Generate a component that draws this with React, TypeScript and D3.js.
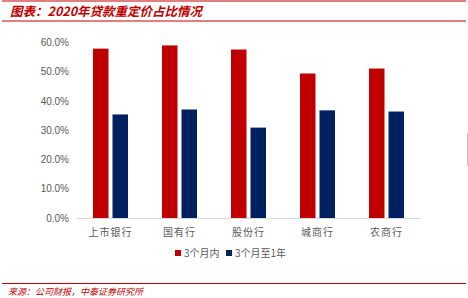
import React from "react";
import * as d3 from "d3";

const categories = ["上市银行", "国有行", "股份行", "城商行", "农商行"];
const seriesNames = ["3个月内", "3个月至1年"];
const within3m = [57.9, 59.0, 57.6, 49.4, 51.1];
const from3mTo1y = [35.4, 37.1, 30.9, 36.8, 36.4];
const yTicks = [0, 10, 20, 30, 40, 50, 60];
const colors = ["#C00000", "#002060"];
const title = "图表：2020年贷款重定价占比情况";
const source = "来源：公司财报，中泰证券研究所";

export default function App() {
  const W = 468, H = 298;
  const x = d3.scaleBand<string>().domain(categories).range([76, 421]).paddingInner(0).paddingOuter(0);
  const y = d3.scaleLinear().domain([0, 60]).range([218, 42.5]);
  const barW = 15.5;
  const gap = 4;
  const series = [within3m, from3mTo1y];
  const font = "'Liberation Sans', Arial, 'Noto Sans CJK SC', sans-serif";
  const cjk = "'Noto Sans CJK SC', sans-serif";
  return (
    <svg width={W} height={H} style={{ position: "absolute", left: 0, top: 0, background: "#fff" }}>
      <line x1={2} x2={466} y1={1} y2={1} stroke="#C00000" strokeWidth={1.2} />
      <text x={10} y={16} fill="#C00000" fontFamily={cjk} fontSize={12.5} fontWeight="bold" fontStyle="italic">{title}</text>
      <line x1={2} x2={466} y1={21} y2={21} stroke="#C00000" strokeWidth={1.2} />

      {yTicks.map((t) => (
        <text key={t} x={69} y={y(t) + 3.5} textAnchor="end" fontFamily={font} fontSize={10} fill="#595959">
          {t.toFixed(1) + "%"}
        </text>
      ))}

      {series.map((vals, si) =>
        vals.map((v, i) => {
          const c = x(categories[i])! + x.bandwidth() / 2;
          const x0 = si === 0 ? c - gap / 2 - barW : c + gap / 2;
          return <rect key={si + "-" + i} x={x0} y={y(v)} width={barW} height={y(0) - y(v)} fill={colors[si]} />;
        })
      )}
      <line x1={76} x2={421} y1={218.5} y2={218.5} stroke="#D9D9D9" strokeWidth={1} />

      {categories.map((c) => (
        <text key={c} x={x(c)! + x.bandwidth() / 2} y={235.5} textAnchor="middle" fontFamily={cjk} fontSize={10} letterSpacing={1} fill="#595959">
          {c}
        </text>
      ))}

      {(() => {
        const items = [
          { sx: 175, tx: 184, name: seriesNames[0], color: colors[0] },
          { sx: 226, tx: 235, name: seriesNames[1], color: colors[1] },
        ];
        return items.map((it) => (
          <g key={it.name}>
            <rect x={it.sx} y={250} width={6} height={6} fill={it.color} />
            <text x={it.tx} y={257} fontFamily={cjk} fontSize={10} fill="#595959">{it.name}</text>
          </g>
        ));
      })()}

      <line x1={467.5} x2={467.5} y1={133} y2={166} stroke="#BFBFBF" strokeWidth={1} />

      <line x1={2} x2={466} y1={283.5} y2={283.5} stroke="#C00000" strokeWidth={1.2} />
      <text x={8} y={295} fill="#C00000" fontFamily={cjk} fontSize={9} fontStyle="italic">{source}</text>
    </svg>
  );
}
